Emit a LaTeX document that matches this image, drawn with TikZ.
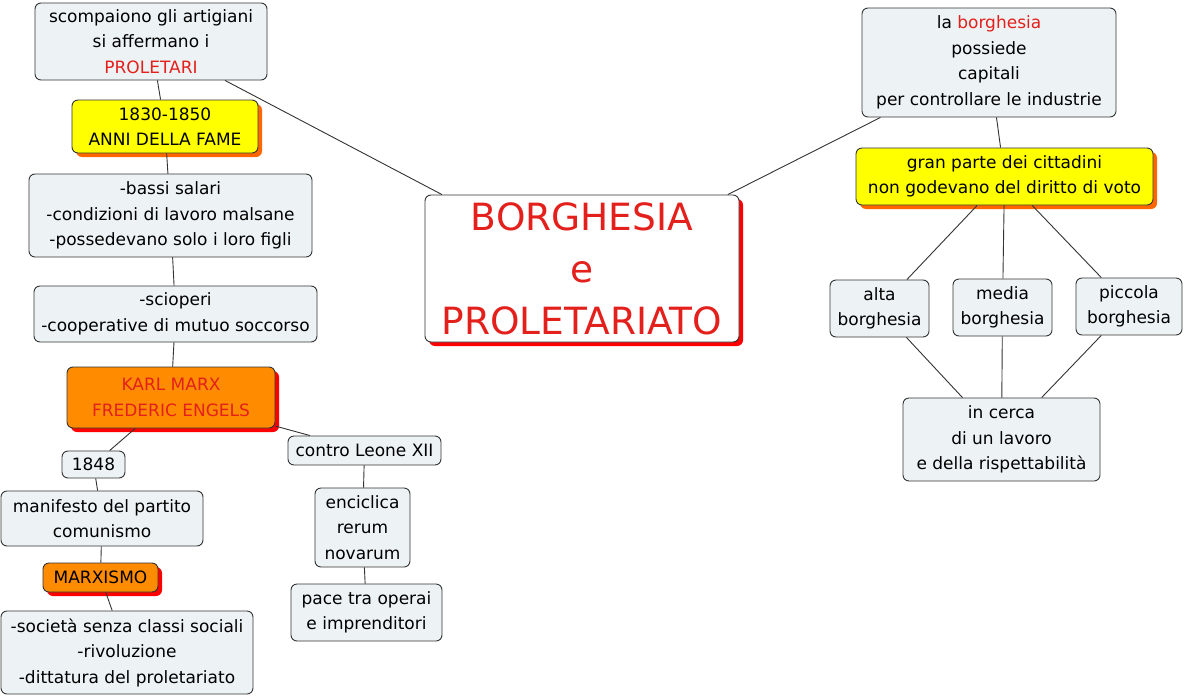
\documentclass[tikz,border=0pt]{standalone}
\usepackage{fontspec}
\setmainfont{DejaVu Sans}
\usetikzlibrary{shadows}
\definecolor{boxfill}{HTML}{EDF3F5}
\definecolor{boxline}{HTML}{333333}
\definecolor{txtred}{HTML}{E3201B}
\definecolor{yel}{HTML}{FFFF00}
\definecolor{org}{HTML}{FF8C00}
\definecolor{shorg}{HTML}{FF6600}
\definecolor{shred}{HTML}{FF0000}
\tikzset{
 box/.style={draw=boxline, line width=0.9pt, rounded corners=6pt, fill=boxfill, align=center, inner sep=1pt, font=\fontsize{17}{25.5}\selectfont},
 ybox/.style={box, fill=yel, drop shadow={shadow xshift=4pt, shadow yshift=-4pt, fill=shorg, opacity=1}},
 obox/.style={box, fill=org, drop shadow={shadow xshift=4pt, shadow yshift=-4pt, fill=shred, opacity=1}},
 link/.style={draw=boxline, line width=0.9pt},
}
\begin{document}
\begin{tikzpicture}[x=1pt,y=-1pt]
\useasboundingbox[fill=white] (0,0) rectangle (1185,696);
% left column
\node[box, minimum width=232, minimum height=77] (b1) at (151,41.5) {scompaiono gli artigiani\\si affermano i\\{\color{txtred}PROLETARI}};
\node[ybox, minimum width=186, minimum height=53] (b2) at (165,126.5) {1830-1850\\ANNI DELLA FAME};
\node[box, minimum width=283, minimum height=83] (b3) at (170.5,215.5) {-bassi salari\\-condizioni di lavoro malsane\\-possedevano solo i loro figli};
\node[box, minimum width=283, minimum height=56] (b4) at (175.5,314) {-scioperi\\-cooperative di mutuo soccorso};
\node[obox, minimum width=208, minimum height=61, text=txtred] (b5) at (171,397.5) {KARL MARX\\FREDERIC ENGELS};
\node[box, minimum width=63, minimum height=27] (b6) at (93.5,464.5) {1848};
\node[box, minimum width=202, minimum height=55] (b7) at (102,518.5) {manifesto del partito\\comunismo};
\node[obox, minimum width=115, minimum height=29] (b8) at (100.5,577.5) {MARXISMO};
\node[box, minimum width=252, minimum height=83] (b9) at (127,652.5) {-società senza classi sociali\\-rivoluzione\\-dittatura del proletariato};
\node[box, minimum width=153, minimum height=29] (b10) at (364.5,450.5) {contro Leone XII};
\node[box, minimum width=95, minimum height=79] (b11) at (362.5,527.5) {enciclica\\rerum\\novarum};
\node[box, minimum width=151, minimum height=57] (b12) at (366.5,612.5) {pace tra operai\\e imprenditori};
% centre
\node[box, fill=white, minimum width=314, minimum height=147, text=txtred, font=\fontsize{37.5}{52}\selectfont, drop shadow={shadow xshift=4pt, shadow yshift=-4pt, fill=shred, opacity=1}] (c) at (582,268.5) {BORGHESIA\\e\\PROLETARIATO};
% right
\node[box, minimum width=254, minimum height=109] (b13) at (989,62.5) {la {\color{txtred}borghesia}\\possiede\\capitali\\per controllare le industrie};
\node[ybox, minimum width=297, minimum height=57] (b14) at (1004.5,176.5) {gran parte dei cittadini\\non godevano del diritto di voto};
\node[box, minimum width=99, minimum height=57] (b15) at (879.5,308.5) {alta\\borghesia};
\node[box, minimum width=99, minimum height=57] (b16) at (1002.5,307.5) {media\\borghesia};
\node[box, minimum width=106, minimum height=57] (b17) at (1129,306.5) {piccola\\borghesia};
\node[box, minimum width=197, minimum height=83] (b18) at (1001.5,439.5) {in cerca\\di un lavoro\\e della rispettabilità};
% links
\draw[link] (b1) -- (b2);
\draw[link] (b1) -- (c);
\draw[link] (b2) -- (b3);
\draw[link] (b3) -- (b4);
\draw[link] (b4) -- (b5);
\draw[link] (b5) -- (b6);
\draw[link] (b5) -- (b10);
\draw[link] (b6) -- (b7);
\draw[link] (b7) -- (b8);
\draw[link] (b8) -- (b9);
\draw[link] (b10) -- (b11);
\draw[link] (b11) -- (b12);
\draw[link] (c) -- (b13);
\draw[link] (b13) -- (b14);
\draw[link] (b14) -- (b15);
\draw[link] (b14) -- (b16);
\draw[link] (b14) -- (b17);
\draw[link] (b15) -- (b18);
\draw[link] (b16) -- (b18);
\draw[link] (b17) -- (b18);
\end{tikzpicture}
\end{document}
